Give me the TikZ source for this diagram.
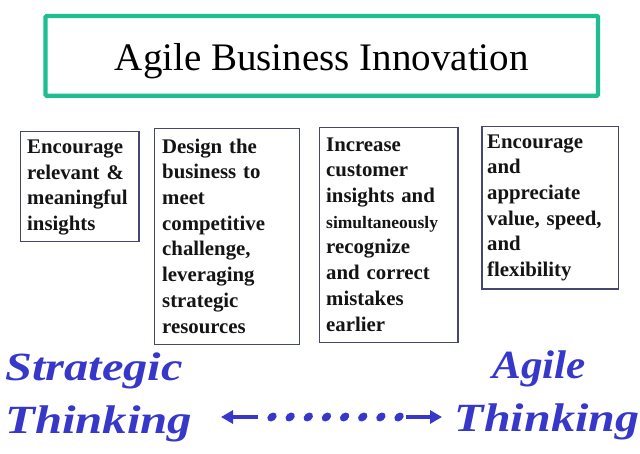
\documentclass[tikz,border=0pt]{standalone}
\usepackage{fontspec}
\usepackage{graphicx}
\setmainfont{Liberation Serif}[BoldFont={Liberation Serif Bold}, ItalicFont={Liberation Serif Italic}, BoldItalicFont={Liberation Serif Bold Italic}]
\usetikzlibrary{arrows.meta}
\definecolor{titlegreen}{RGB}{30,190,145}
\definecolor{boxline}{RGB}{70,70,115}
\definecolor{wordblue}{RGB}{55,55,202}
\tikzset{
  titlebox/.style={draw=titlegreen, line width=4.2pt, rounded corners=1pt, inner sep=0pt,
    font=\fontsize{39}{45}\selectfont},
  ideabox/.style={draw=boxline, line width=1.3pt, inner sep=0pt, anchor=north west},
  ideatext/.style={inner sep=0pt, anchor=north west, align=left, text width=150pt,
    font=\fontsize{20.8}{25.7}\selectfont\bfseries, text=black!92},
  bigword/.style={inner sep=0pt, text=wordblue,
    font=\fontsize{40}{53}\selectfont\bfseries\itshape},
  stemarrow/.style={draw=wordblue, line width=3.8pt, -{Triangle[length=12pt,width=13pt]}},
  dotmark/.style={fill=wordblue}
}
\begin{document}
\begin{tikzpicture}[x=1pt,y=-1pt]
\useasboundingbox (0,0) rectangle (640,453);
\fill[white] (0,0) rectangle (640,453);

% title
\node[titlebox, minimum width=552.5pt, minimum height=79.7pt, text height=52.4pt, text depth=24pt]
  (title) at (321.8,55.8) {Agile Business Innovation};

% idea boxes
\node[ideabox, minimum width=118.8pt, minimum height=110.2pt] (b1) at (19.5,130.5) {};
\node[ideabox, minimum width=145pt, minimum height=216pt] (b2) at (153.8,128) {};
\node[ideabox, minimum width=138.3pt, minimum height=215pt] (b3) at (319,127) {};
\node[ideabox, minimum width=136.7pt, minimum height=162.5pt] (b4) at (481.3,125.8) {};

\node[ideatext] (t1) at (27,135.3) {\strut Encourage\\relevant \&\\meaningful\\insights};
\node[ideatext] (t2) at (162,135) {\strut Design the\\business to\\meet\\competitive\\challenge,\\leveraging\\strategic\\resources};
\node[ideatext] (t3) at (326,133) {\strut Increase\\customer\\insights and\\{\fontsize{17.5}{25.7}\selectfont simultaneously}\\recognize\\and correct\\mistakes\\earlier};
\node[ideatext] (t4) at (487,130) {\strut Encourage\\and\\appreciate\\value, speed,\\and\\flexibility};

% bottom words
\node[bigword, anchor=north west, align=left] (strat) at (5,343.6)
  {\strut\scalebox{1.21}[1]{Strategic}\\\scalebox{1.22}[1]{Thinking}};
\node[bigword, anchor=north, align=center] (agile) at (547,341.6)
  {\strut\scalebox{1.08}[1]{Agile}\hspace*{16pt}\\\scalebox{1.2}[1]{Thinking}};

% double arrow with dots
\coordinate (la) at (221,417);
\coordinate (lb) at (258,417);
\coordinate (rb) at (406,417);
\coordinate (ra) at (442,417);
\draw[stemarrow] (lb) -- (la);
\draw[stemarrow] (rb) -- (ra);
\foreach \i in {0,...,7}{
  \fill[dotmark, shift={(272+\i*18.15,417)}, rotate=40] (0,0) ellipse [x radius=5.2pt, y radius=3.9pt];
}
\end{tikzpicture}
\end{document}
